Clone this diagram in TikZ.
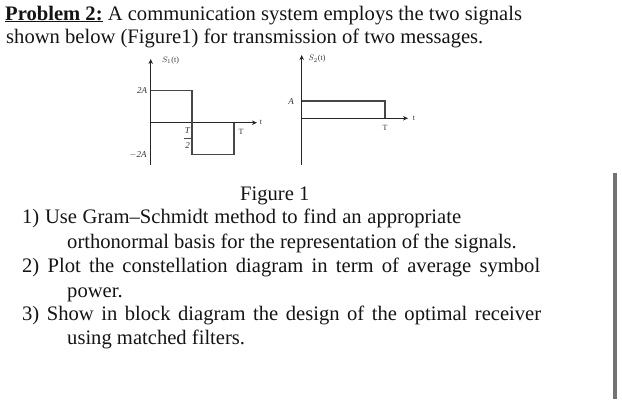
\documentclass[tikz,border=0pt]{standalone}
\usepackage{fontspec}
\setmainfont{Liberation Serif}
\tikzset{
 txt/.style={anchor=base west,inner sep=0pt,font=\fontsize{20.6}{24}\selectfont,text=black!92},
 sig/.style={draw=black!72,line width=1.3pt},
 axis/.style={draw=black!85,line width=1.5pt,-{Stealth[length=5pt,width=4.5pt]}},
 lab/.style={inner sep=0pt,font=\fontsize{8}{9}\selectfont,text=black!80},
 mlab/.style={inner sep=0pt,font=\fontsize{9}{10}\selectfont\itshape,text=black!80}
}
\usetikzlibrary{arrows.meta}
\begin{document}
\begin{tikzpicture}[x=1pt,y=-1pt]
\useasboundingbox (0,0) rectangle (622,400);
\node[txt] (l1) at (5,20) {\textbf{\underline{Problem 2:}} A communication system employs the two signals};
\node[txt] (l2) at (6,43) {shown below (Figure1) for transmission of two messages.};
\node[txt] (fig) at (240,200) {Figure 1};
\node[txt] (i1) at (22,223) {\makebox[439pt][s]{1) Use Gram--Schmidt method to find an appropriate}};
\node[txt] (i1b) at (67,248) {orthonormal basis for the representation of the signals.};
\node[txt] (i2) at (22,272) {\makebox[518pt][s]{2) Plot the constellation diagram in term of average symbol}};
\node[txt] (i2b) at (67,297) {power.};
\node[txt] (i3) at (22,320) {\makebox[519pt][s]{3) Show in block diagram the design of the optimal receiver}};
\node[txt] (i3b) at (67,344) {using matched filters.};
% left plot
\coordinate (a1b) at (150.7,165);
\coordinate (a1t) at (150.7,59);
\coordinate (t1s) at (150.7,122.7);
\coordinate (t1e) at (257,122.7);
\draw[axis] (a1b) -- (a1t);
\draw[axis] (t1s) -- (t1e);
\draw[sig] (150.7,90.7) -- (192,90.7) -- (192,154.7) -- (234,154.7) -- (234,122.7);
\node[lab] (s1) at (170.5,60.5) {$S_1$(t)};
\node[mlab] (a2) at (142,91) {2A};
\node[mlab] (am2) at (138,154.7) {$-$2A};
\node[lab] (t) at (261,122) {t};
\node[lab] (T1) at (241,132) {T};
\node[mlab] (T2n) at (187.5,130.5) {T};
\draw[draw=black!70,line width=.6pt] (184,138.5) -- (191,138.5);
\node[mlab] (T2d) at (187.5,146) {2};
% right plot
\coordinate (a2b) at (301.7,165);
\coordinate (a2t) at (301.7,55);
\coordinate (t2s) at (301.7,118.3);
\coordinate (t2e) at (408,118.3);
\draw[axis] (a2b) -- (a2t);
\draw[axis] (t2s) -- (t2e);
\draw[sig] (301.7,101) -- (385,101) -- (385,118.3);
\node[lab] (s2) at (317,59) {$S_2$(t)};
\node[mlab] (aa) at (291,102) {A};
\node[lab] (t3) at (414,118) {t};
\node[lab] (T3) at (385,128) {T};
% scroll bar
\fill[black!55] (613,173) rectangle (617,399);
\end{tikzpicture}
\end{document}
